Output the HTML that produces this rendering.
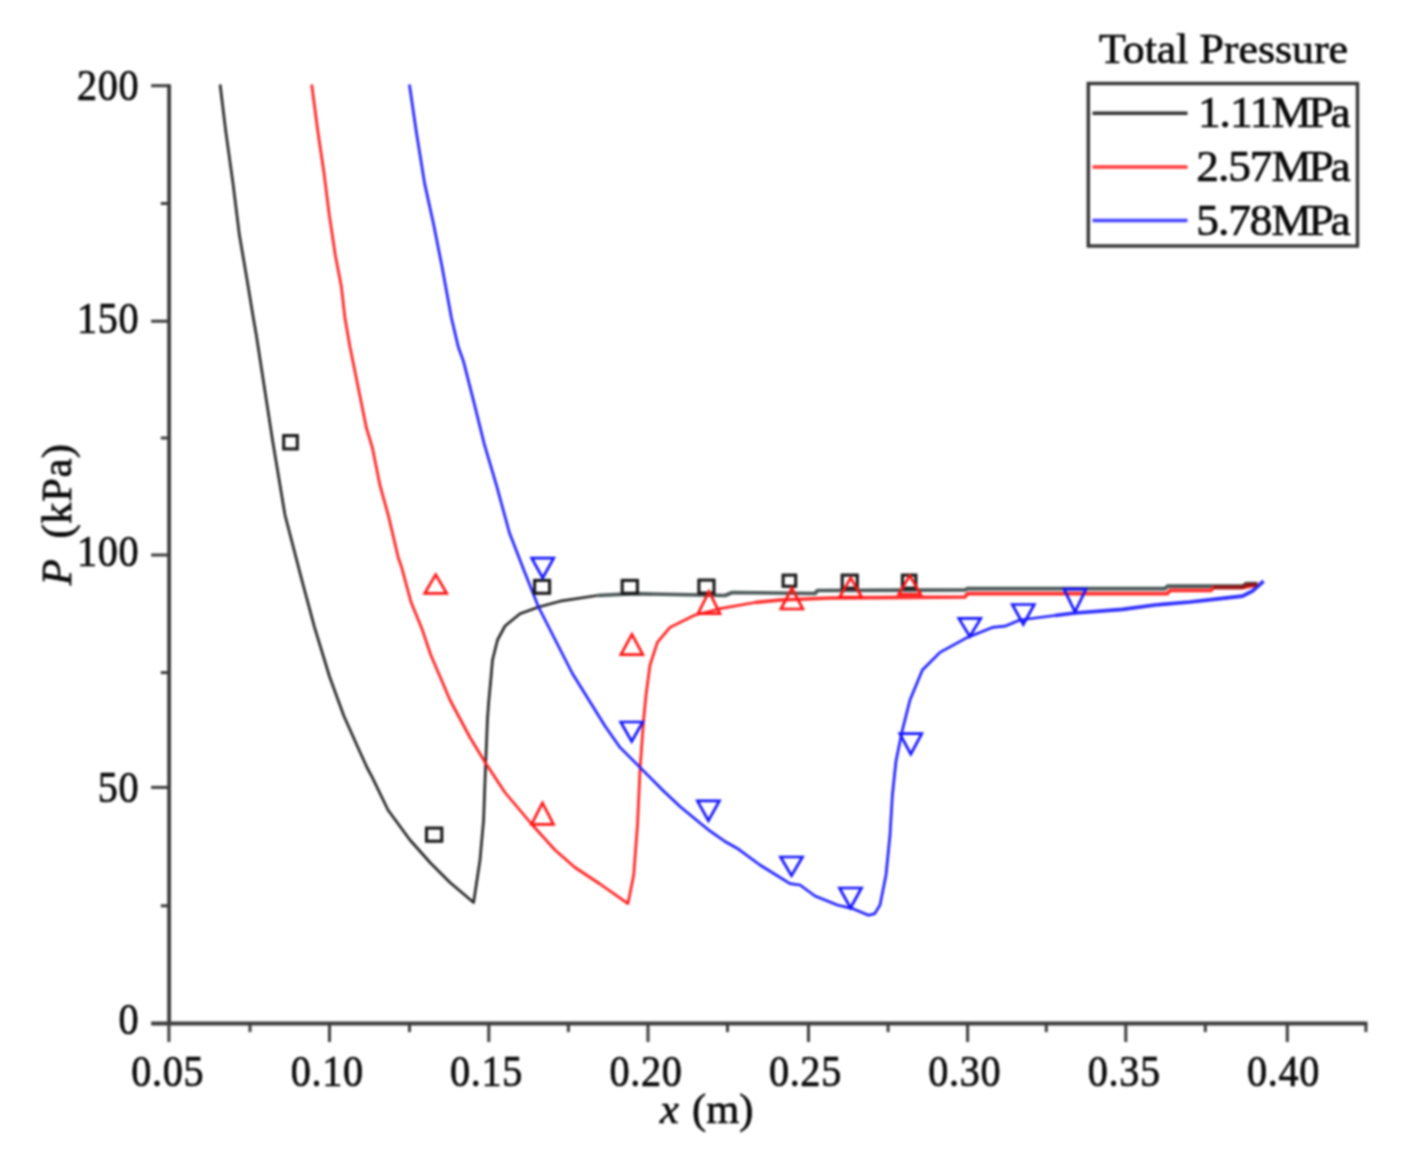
<!DOCTYPE html>
<html lang="en"><head><meta charset="utf-8"><title>Total Pressure chart</title>
<style>html,body{margin:0;padding:0;background:#fff}body{width:1409px;height:1161px;overflow:hidden}svg{display:block}text{font-family:"Liberation Serif","DejaVu Serif",serif;fill:#0a0a0a;stroke:#0a0a0a;stroke-width:0.7px}</style>
</head><body>
<svg width="1409" height="1161" viewBox="0 0 1409 1161">
<rect width="1409" height="1161" fill="#fff"/>
<defs><filter id="soft" x="0" y="0" width="100%" height="100%" filterUnits="userSpaceOnUse" color-interpolation-filters="sRGB"><feGaussianBlur stdDeviation="1.1"/></filter></defs>
<g filter="url(#soft)">
<g stroke="#3c3c3c" stroke-width="3.8" fill="none" stroke-linecap="butt">
<path d="M169.1,84.2 V1023.5 M151.1,1023.5 H1367.4"/>
</g>
<g stroke="#3c3c3c" stroke-width="3" fill="none">
<path d="M151.1,85.7 H169.1"/>
<path d="M160.79999999999998,203.5 H169.1"/>
<path d="M151.1,321.2 H169.1"/>
<path d="M160.79999999999998,438.0 H169.1"/>
<path d="M151.1,555.0 H169.1"/>
<path d="M160.79999999999998,672.6 H169.1"/>
<path d="M151.1,787.4 H169.1"/>
<path d="M160.79999999999998,905.8 H169.1"/>
<path d="M168.9,1023.5 V1042.0"/>
<path d="M250.0,1023.5 V1032.1"/>
<path d="M329.5,1023.5 V1042.0"/>
<path d="M409.5,1023.5 V1032.1"/>
<path d="M488.8,1023.5 V1042.0"/>
<path d="M568.4,1023.5 V1032.1"/>
<path d="M648.0,1023.5 V1042.0"/>
<path d="M727.5,1023.5 V1032.1"/>
<path d="M808.5,1023.5 V1042.0"/>
<path d="M888.1,1023.5 V1032.1"/>
<path d="M967.6,1023.5 V1042.0"/>
<path d="M1046.3,1023.5 V1032.1"/>
<path d="M1125.8,1023.5 V1042.0"/>
<path d="M1205.3,1023.5 V1032.1"/>
<path d="M1287.3,1023.5 V1042.0"/>
<path d="M1365.9,1023.5 V1032.1"/>
</g>
<g font-size="43.5" text-anchor="end" letter-spacing="0.7">
<text transform="translate(139.3,100.3) scale(0.925,1)">200</text>
<text transform="translate(139.3,333.1) scale(0.925,1)">150</text>
<text transform="translate(139.3,566.0) scale(0.925,1)">100</text>
<text transform="translate(139.3,802.1) scale(0.925,1)">50</text>
<text transform="translate(139.3,1033.6) scale(0.925,1)">0</text>
</g>
<g font-size="43.5" text-anchor="middle" letter-spacing="0.7">
<text transform="translate(167.8,1085.8) scale(0.925,1)">0.05</text>
<text transform="translate(327.2,1085.8) scale(0.925,1)">0.10</text>
<text transform="translate(486.6,1085.8) scale(0.925,1)">0.15</text>
<text transform="translate(646.0,1085.8) scale(0.925,1)">0.20</text>
<text transform="translate(805.4,1085.8) scale(0.925,1)">0.25</text>
<text transform="translate(964.8,1085.8) scale(0.925,1)">0.30</text>
<text transform="translate(1124.2,1085.8) scale(0.925,1)">0.35</text>
<text transform="translate(1283.6,1085.8) scale(0.925,1)">0.40</text>
</g>
<text x="706.7" y="1122.7" font-size="42.5" text-anchor="middle" word-spacing="2.5"><tspan font-style="italic">x</tspan> (m)</text>
<text transform="translate(71,514.3) rotate(-90)" font-size="42.5" text-anchor="middle" word-spacing="9" letter-spacing="0.6"><tspan font-style="italic">P</tspan> (kPa)</text>
<polyline points="220.1,84.5 225.8,131.7 233.0,183.4 239.4,235.1 246.5,276.4 253.3,317.8 256.3,335.0 272.5,440.0 285.0,515.0 302.2,581.4 314.4,626.8 329.5,676.5 343.8,715.8 357.6,746.8 367.0,767.5 372.5,777.8 388.0,810.0 410.0,840.0 430.0,862.5 450.0,882.5 473.6,902.5 480.0,860.0 483.6,820.0 485.4,770.0 487.4,720.0 488.7,702.0 491.0,677.5 492.5,660.0 497.5,640.0 505.0,626.0 520.0,613.7 538.7,607.0 560.0,601.2 597.4,595.5" fill="none" stroke="#262626" stroke-width="2.7" stroke-linejoin="round"/>
<polyline points="597.4,595.5 635.0,593.7 725.0,595.5 732.3,592.5 815.0,593.5 817.5,590.5 965.0,590.0 967.0,588.7 1165.0,588.7 1167.4,586.2 1242.4,586.2 1246.0,583.7 1257.4,583.7" fill="none" stroke="#4a5656" stroke-width="3.7" stroke-linejoin="round"/>
<polyline points="311.7,84.5 317.9,131.7 324.0,173.0 329.2,214.4 335.4,255.8 341.4,286.8 344.9,317.8 350.0,347.0 361.3,402.7 366.3,427.5 372.5,448.2 380.0,485.4 388.6,516.4 398.3,557.8 401.5,566.9 411.0,602.0 422.0,628.9 430.6,654.5 450.0,700.0 470.0,737.5 486.0,763.7 505.0,792.5 532.4,825.0 555.0,850.0 575.0,867.5 600.0,884.0 628.0,903.6 633.7,875.0 637.5,825.0 640.0,770.0 643.6,720.0 646.0,695.0 650.0,665.0 657.4,642.4 670.0,627.4 695.0,615.0 720.0,608.7 755.0,602.5" fill="none" stroke="#ff2020" stroke-width="2.7" stroke-linejoin="round"/>
<polyline points="755.0,602.5 780.0,600.0 830.0,598.0 965.0,597.0 967.5,593.5 1167.4,593.7 1170.0,590.4 1211.0,590.4 1213.5,587.6 1242.4,587.6 1257.4,584.6" fill="none" stroke="#ff2c2c" stroke-width="3.7" stroke-linejoin="round"/>
<polyline points="409.4,84.5 416.3,131.7 424.6,183.4 433.7,224.8 441.9,266.1 451.4,317.8 458.3,347.0 463.5,361.4 474.0,402.7 484.3,444.1 496.5,485.4 509.5,533.0 525.0,573.0 538.5,607.0 572.4,673.5 605.0,726.0 620.0,747.4 640.0,767.4 662.5,790.0 680.0,806.5 700.0,823.0 708.4,829.8 725.0,841.5 737.0,848.2 760.0,865.0 790.0,883.6 800.0,885.0 815.0,896.0 837.3,905.0 852.3,908.6 868.6,915.3 874.8,913.6 880.0,905.0 886.0,875.0 890.0,835.0 892.4,795.0 896.0,761.0 902.4,730.0 910.0,700.0 922.4,670.0 940.0,652.4 967.4,637.4 992.3,627.4 1004.8,626.2 1020.0,620.0 1054.8,615.5" fill="none" stroke="#2020ff" stroke-width="2.7" stroke-linejoin="round"/>
<polyline points="1054.8,615.5 1075.0,613.0 1122.5,609.4 1155.0,605.0 1190.0,602.0 1220.0,598.7 1242.4,596.2 1252.4,591.2 1263.6,581.2" fill="none" stroke="#2c2cff" stroke-width="3.7" stroke-linejoin="round"/>
<polyline points="1213.5,587.2 1242.4,587.2 1246,585 1257.4,584.4" fill="none" stroke="#8c1414" stroke-width="3.6" stroke-linejoin="round"/>
<g fill="none" stroke="#181818" stroke-width="3.1">
<rect x="283.7" y="435.6" width="13.6" height="13.3"/>
<rect x="426.5" y="828.1" width="15.3" height="13.1"/>
<rect x="534.6" y="580.4" width="15.0" height="12.9"/>
<rect x="622.2" y="580.4" width="15.2" height="12.9"/>
<rect x="698.9" y="580.1" width="15.1" height="13.0"/>
<rect x="783.1" y="575.1" width="12.6" height="11.2"/>
<rect x="842.2" y="575.1" width="15.1" height="13.1"/>
<rect x="902.4" y="575.1" width="13.5" height="13.1"/>
</g>
<g fill="none" stroke="#ff1414" stroke-width="2.7" stroke-linejoin="miter">
<path d="M435.7,574.6 L446.7,593.3 H424.7 Z"/>
<path d="M542.5,803.0 L553.5,824.3 H531.5 Z"/>
<path d="M631.9,634.3 L642.9,654.7 H620.9 Z"/>
<path d="M709.0,591.5 L720.0,613.6 H698.0 Z"/>
<path d="M791.9,588.1 L802.9,609.0 H780.9 Z"/>
<path d="M850.7,577.9 L861.7,597.0 H839.7 Z"/>
<path d="M909.7,575.6 L920.7,594.3 H898.7 Z"/>
</g>
<g fill="none" stroke="#1414ff" stroke-width="2.7" stroke-linejoin="miter">
<path d="M531.7,558.2 H553.7 L542.7,577.9 Z"/>
<path d="M620.7,722.0 H642.7 L631.7,741.5 Z"/>
<path d="M697.4,800.8 H719.4 L708.4,820.6 Z"/>
<path d="M780.5,857.0 H802.5 L791.5,875.6 Z"/>
<path d="M839.5,888.0 H861.5 L850.5,908.0 Z"/>
<path d="M899.8,733.7 H921.8 L910.8,754.2 Z"/>
<path d="M958.8,618.4 H980.8 L969.8,636.5 Z"/>
<path d="M1012.3,604.5 H1034.3 L1023.3,624.4 Z"/>
<path d="M1064.0,589.2 H1086.0 L1075.0,611.9 Z"/>
</g>
<text transform="translate(1223.5,62.5) scale(1.02,1)" font-size="43" text-anchor="middle" stroke-width="0.25">Total Pressure</text>
<rect x="1088.3" y="83.5" width="269.2" height="162.5" fill="#fff" stroke="#343434" stroke-width="3.4"/>
<path d="M1092.5,113.2 H1187.5" stroke="#333" stroke-width="3.5"/>
<text x="1347.5" y="127.0" font-size="45.3" text-anchor="end"><tspan letter-spacing="-1">1.11</tspan><tspan letter-spacing="-3.2">MPa</tspan></text>
<path d="M1092.5,166.9 H1187.5" stroke="#ff3838" stroke-width="3.5"/>
<text x="1347.5" y="180.8" font-size="45.3" text-anchor="end"><tspan letter-spacing="-1">2.57</tspan><tspan letter-spacing="-3.2">MPa</tspan></text>
<path d="M1092.5,220.6 H1187.5" stroke="#4040ff" stroke-width="3.5"/>
<text x="1347.5" y="234.6" font-size="45.3" text-anchor="end"><tspan letter-spacing="-1">5.78</tspan><tspan letter-spacing="-3.2">MPa</tspan></text>
</g>
</svg>
</body></html>
